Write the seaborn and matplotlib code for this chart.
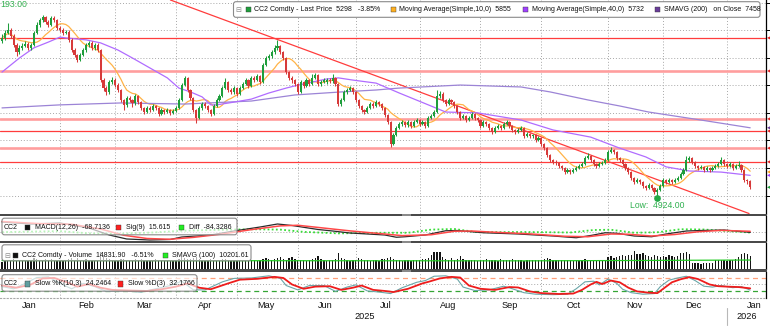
import numpy as np
import pandas as pd
import matplotlib
matplotlib.use("Agg")
import matplotlib.pyplot as plt
import seaborn as sns
from matplotlib.patches import FancyBboxPatch, Rectangle
from matplotlib.transforms import Affine2D, blended_transform_factory

# ---------------------------------------------------------------- data
holidays = ["2025-01-09", "2025-01-20", "2025-02-17", "2025-04-18", "2025-05-26",
            "2025-06-19", "2025-07-04", "2025-09-01", "2025-11-27", "2025-12-25",
            "2026-01-01"]

opens = [10600,10720,10900,11010,10790,10460,10210,10360,10430,10500,
         10360,10460,10900,11190,11370,11480,11300,11190,11440,11370,
         11080,11010,10900,10940,10650,10280,10100,9920,10100,10280,
         10460,10540,10360,10460,10280,9190,8900,8760,9120,9190,
         9010,8830,8470,8290,8540,8470,8360,8610,8390,8180,
         8030,8180,8100,8250,8180,7960,8100,8030,8100,8000,
         8070,8180,8470,9010,9270,8830,8540,8100,7810,8180,
         8320,8250,8100,7960,8250,8470,8610,8900,9120,8830,
         8760,8900,8690,8900,9050,9190,8980,9270,9190,9340,
         9120,9740,9990,10060,10210,10360,10430,10210,9990,9480,
         9270,9190,9050,8760,9120,8980,9190,9050,9270,9380,
         9050,9120,9120,9190,9150,9270,9050,8320,8470,8760,
         8830,8900,8760,8470,8250,8100,8030,8180,8320,8250,
         8390,8320,8180,7920,7670,6870,7200,7450,7600,7670,
         7560,7670,7520,7670,7740,7600,7670,7520,7810,7890,
         8030,8610,8690,8470,8320,8470,8390,8250,8030,7810,
         7890,7740,7810,7960,7810,7740,7520,7670,7600,7450,
         7310,7450,7520,7450,7600,7670,7520,7380,7310,7380,
         7450,7160,7230,7160,7190,7020,7090,6870,6730,6470,
         6290,6220,6180,6070,6000,5850,5930,5850,5930,6000,
         6070,6140,6360,6430,6290,6140,6070,6140,6180,6290,
         6580,6650,6580,6360,6290,6140,6000,5850,5640,5490,
         5560,5490,5350,5270,5380,5270,5130,5200,5350,5560,
         5490,5560,5490,5560,5640,5780,5930,6290,6360,6220,
         6070,6000,6040,5930,6000,5930,6000,6070,6140,6290,
         6140,6070,6140,6000,6070,6110,5930,5550,5510]

highs = [10850,11000,11260,11080,10850,10520,10450,10520,10600,10560,
         10540,10980,11300,11450,11560,11530,11380,11520,11500,11420,
         11150,11080,11020,10990,10700,10350,10150,10180,10350,10540,
         10620,10600,10530,10520,10320,9250,8980,9200,9300,9250,
         9080,8880,8520,8620,8600,8520,8680,8650,8440,8230,
         8250,8240,8330,8300,8220,8170,8150,8170,8150,8140,
         8250,8540,9100,9350,9300,8880,8580,8150,8250,8400,
         8390,8290,8140,8310,8540,8700,8980,9270,9160,8890,
         8970,8950,8970,9130,9270,9230,9340,9330,9420,9380,
         9820,10080,10140,10300,10450,10650,10480,10260,10030,9530,
         9330,9240,9100,9190,9170,9260,9230,9400,9460,9420,
         9190,9260,9260,9260,9400,9310,9080,8540,8830,8900,
         8970,8940,8800,8510,8290,8150,8250,8400,8380,8460,
         8440,8360,8220,7960,7700,7270,7520,7680,7750,7720,
         7740,7710,7740,7820,7780,7740,7710,7880,7960,8100,
         8830,8780,8740,8520,8540,8520,8430,8290,8070,7960,
         7930,7880,8030,8000,7860,7780,7740,7720,7640,7490,
         7520,7590,7570,7670,7740,7710,7560,7420,7450,7520,
         7490,7300,7280,7250,7230,7160,7130,6910,6770,6510,
         6340,6280,6220,6120,6040,6000,5970,6000,6070,6140,
         6210,6430,6540,6470,6330,6180,6210,6250,6360,6650,
         6750,6700,6620,6400,6330,6180,6040,5890,5680,5630,
         5600,5530,5390,5450,5420,5310,5270,5420,5630,5600,
         5630,5600,5630,5710,5850,6000,6420,6450,6400,6260,
         6110,6110,6080,6070,6040,6070,6140,6210,6400,6330,
         6180,6210,6180,6140,6250,6150,5970,5600,5560]

lows = [10520,10650,10850,10700,10380,10080,10150,10290,10380,10290,
        10300,10420,10850,11120,11300,11220,11100,11150,11290,11000,
        10930,10820,10850,10580,10200,10020,9850,9880,10050,10220,
        10400,10300,10300,10220,9120,8800,8650,8700,9060,8940,
        8750,8400,8100,8220,8380,8200,8300,8330,8100,7960,
        7980,8030,8050,8110,7880,7920,7970,7980,7940,7950,
        8020,8130,8420,8960,8760,8460,8020,7630,7760,8120,
        8180,8030,7870,7920,8200,8420,8560,8850,8760,8680,
        8700,8620,8640,8850,9000,8900,8930,9120,9140,9050,
        9080,9690,9920,10000,10150,10300,10140,9920,9400,9200,
        9100,8980,8680,8720,8900,8940,8980,9000,9220,8980,
        8990,9070,9060,9090,9100,8980,8250,8260,8420,8700,
        8780,8700,8400,8180,8030,7960,7990,8130,8180,8200,
        8250,8110,7850,7600,6760,6820,7150,7400,7540,7490,
        7500,7460,7470,7620,7530,7550,7450,7480,7760,7840,
        7990,8550,8400,8250,8270,8320,8180,7960,7740,7760,
        7670,7690,7760,7740,7670,7450,7470,7530,7380,7240,
        7260,7400,7380,7400,7550,7460,7310,7240,7260,7330,
        7090,7110,7090,7100,6950,6970,6800,6660,6400,6220,
        6150,6110,6000,5930,5780,5800,5780,5800,5880,5950,
        6020,6100,6310,6220,6070,6000,6020,6090,6130,6250,
        6530,6510,6290,6220,6070,5930,5780,5570,5420,5440,
        5420,5280,5200,5220,5200,5060,4924,5150,5300,5420,
        5440,5420,5440,5510,5590,5730,5890,6230,6150,6000,
        5930,5950,5860,5880,5860,5880,5950,6020,6090,6070,
        6000,6020,5930,5950,6020,5860,5480,5430,5230]

closes = [10720,10900,11010,10790,10460,10210,10360,10430,10500,10360,
          10460,10900,11190,11370,11480,11300,11190,11440,11370,11080,
          11010,10900,10940,10650,10280,10100,9920,10100,10280,10460,
          10540,10360,10460,10280,9190,8900,8760,9120,9190,9010,
          8830,8470,8290,8540,8470,8360,8610,8390,8180,8030,
          8180,8100,8250,8180,7960,8100,8030,8100,8000,8070,
          8180,8470,9010,9270,8830,8540,8100,7810,8180,8320,
          8250,8100,7960,8250,8470,8610,8900,9120,8830,8760,
          8900,8690,8900,9050,9190,8980,9270,9190,9340,9120,
          9740,9990,10060,10210,10360,10430,10210,9990,9480,9270,
          9190,9050,8760,9120,8980,9190,9050,9270,9380,9050,
          9120,9190,9190,9150,9270,9050,8320,8470,8760,8830,
          8900,8760,8470,8250,8100,8030,8180,8320,8250,8390,
          8320,8180,7920,7670,6870,7200,7450,7600,7670,7560,
          7670,7520,7670,7740,7600,7670,7520,7810,7890,8030,
          8610,8690,8470,8320,8470,8390,8250,8030,7810,7890,
          7740,7810,7960,7810,7740,7520,7670,7600,7450,7310,
          7450,7520,7450,7600,7670,7520,7380,7310,7380,7450,
          7160,7230,7160,7190,7020,7090,6870,6730,6470,6290,
          6220,6180,6070,6000,5850,5930,5850,5930,6000,6070,
          6140,6360,6430,6290,6140,6070,6140,6180,6290,6580,
          6650,6580,6360,6290,6140,6000,5850,5640,5490,5560,
          5490,5350,5270,5380,5270,5130,5200,5350,5560,5490,
          5560,5490,5560,5640,5780,5930,6290,6360,6220,6070,
          6000,6040,5930,6000,5930,6000,6070,6140,6290,6140,
          6070,6140,6000,6070,6110,5930,5550,5510,5298]

volumes = [8500,9200,10400,9800,11200,10600,9400,8800,9900,10300,9100,12400,11800,10200,9600,10800,9300,11000,9700,10500,9900,
           10100,9400,11300,12100,10700,11900,10300,9600,10800,9200,10100,9800,10600,19500,14200,12800,11000,10400,
           9900,10700,11600,10900,9800,10200,9500,10800,10100,11200,9700,9400,10300,9800,11000,9600,9200,10100,9500,9800,9300,
           9700,11800,13500,12200,11400,10800,12600,13100,11500,10200,9600,10400,10900,10300,9900,10600,11200,10800,9800,9400,10100,
           9600,10200,9100,9800,10400,9900,10600,9300,9900,10800,12300,11600,10700,11200,12100,13000,11400,10600,12800,13500,11200,
           10300,9700,10600,9400,10200,11000,12400,14600,10800,9900,9600,10300,9800,11500,18000,12800,10900,10200,9500,9900,
           10400,12300,11100,10300,9800,9600,10700,10100,9500,10900,11400,12000,13200,11800,10600,9900,9400,10200,9700,9300,10100,9800,
           10200,10800,11300,12600,15200,18800,19300,19000,13500,11800,10400,12900,10600,11700,14100,10800,9900,10400,9700,10200,9500,
           10600,9800,11100,10200,9900,10500,9600,10800,10300,9700,10100,11200,10400,9800,10600,9500,10200,9900,10700,10300,9800,
           10500,11000,12100,11400,10600,10200,9800,10400,9900,10700,10100,9600,10300,10000,9700,11200,10600,9900,10400,9800,10200,9600,10100,
           13600,14200,12800,13900,14800,15300,14500,15800,16200,19900,17200,16800,17600,15900,14400,13800,15200,14100,13500,
           14600,13900,15400,14800,13700,15100,18200,17600,19000,16400,6800,6500,7100,6200,6900,6600,7300,6400,10300,9800,10600,10100,
           9600,10400,9900,11800,13900,16500,17800,17100,14832]

ma40_day = [0,6,11,16,20,22,29,34,40,45,51,57,61,65,69,72,74,80,86,92,
            98,101,107,112,116,121,129,137,147,153,164,179,190,203,213,222,229,237,248,258]
ma40_val = [9480,9990,10360,10570,10750,10720,10650,10540,10280,9990,9630,9270,8900,8760,8580,8290,8290,8390,8500,8720,
            8900,8980,9120,9230,9270,9190,9080,8720,8290,8030,8000,7740,7380,7120,6720,6400,6040,5890,5850,5732]
sma200_day = [0,20,41,63,86,101,117,129,137,158,179,189,202,213,223,241,258]
sma200_val = [8180,8290,8360,8320,8430,8650,8760,8830,8900,9010,8940,8760,8470,8250,8030,7740,7458]

vol_sma_day = [0,60,120,180,220,258]
vol_sma_val = [9600,9500,9400,9300,9700,10202]

macd_day = [0,10,20,30,37,43,51,58,62,72,80,89,95,100,109,114,120,126,132,136,
            139,146,153,157,166,178,190,198,203,208,212,218,224,229,236,241,249,258]
macd_val = [760,600,680,280,-280,-600,-680,-640,-440,-280,40,360,600,480,160,40,-120,-200,-280,-460,
            -420,-280,60,80,-100,-200,-360,-500,-320,-100,-140,-360,-420,-200,40,80,120,-69]
signal_day = [0,12,24,34,42,50,58,66,76,86,96,102,112,120,130,138,148,156,162,170,
              182,194,202,210,216,224,232,240,248,258]
signal_val = [800,640,580,200,-300,-560,-620,-470,-200,150,450,500,250,50,-160,-330,-260,20,40,-60,
              -190,-380,-420,-200,-220,-360,-240,-20,90,16]
diff_day = [0,20,30,40,52,62,72,86,96,104,116,130,140,148,156,164,180,196,204,210,218,226,234,242,250,258]
diff_val = [-50,30,-150,-180,-80,60,120,180,150,-30,-150,-100,-100,150,200,-60,-40,-80,120,140,-100,-60,180,160,40,-84]

slowk_day = [0,4,8,12,16,20,24,28,32,36,42,48,53,58,62,66,70,76,80,86,92,96,98,102,106,111,115,119,122,126,
             130,134,138,143,146,149,153,157,159,163,168,173,176,180,184,190,195,198,201,204,206,209,212,214,217,
             221,225,227,230,233,236,239,242,245,248,252,255,258]
slowk_val = [40,30,55,82,85,55,30,55,40,18,20,15,30,45,65,25,25,62,78,80,90,78,45,25,45,45,18,38,48,20,
             15,8,35,60,68,88,90,75,38,22,25,42,30,12,5,3,5,30,62,65,48,75,55,28,12,
             5,8,40,70,80,88,68,42,38,45,35,40,24]
slowd_day = [0,5,10,14,18,22,26,30,34,38,44,50,55,60,64,68,72,78,82,88,94,97,100,104,108,113,117,121,124,128,
             132,135,140,145,147,151,155,158,161,165,170,175,178,182,186,192,197,200,203,205,207,210,213,216,219,
             223,226,228,231,234,237,240,244,247,250,254,258]
slowd_val = [45,35,50,78,80,62,40,52,35,25,22,20,28,40,55,35,28,55,72,76,85,80,50,30,40,42,25,35,45,25,
             20,15,30,55,62,78,85,82,45,30,25,38,36,18,10,6,8,25,50,62,52,68,60,35,18,
             12,10,30,60,74,84,75,50,42,40,38,32]

red_levels = [10720, 7340, 6220]
pink_levels = [9520, 7780, 6720]
trend_day = [58, 257]
trend_price = [12100, 4370]
price_grid = [5000, 6000, 7000, 8000, 9000, 10000, 11000, 12000]
stoch_bands = [80, 20]

last_price, last_change_pct = 5298, -3.85
ma10_last, ma40_last, sma200_last = 5855, 5732, 7458
macd_last, signal_last, diff_last = -68.7136, 15.615, -84.3286
volume_last, volume_change_pct, volume_sma_last = 14831.90, -6.51, 10201.61
slowk_last, slowd_last = 24.2464, 32.1766
high_label = "193.00"
month_names = ["Jan", "Feb", "Mar", "Apr", "May", "Jun", "Jul", "Aug", "Sep", "Oct", "Nov", "Dec", "Jan"]

# ---------------------------------------------------------------- style
sns.set_theme(style="white")
plt.rcParams["font.family"] = ["Liberation Sans", "DejaVu Sans"]

UP, DOWN = "#1f9e3c", "#d73a3a"
GRID = "#a8a8a8"
DOT = (0, (1, 2))

W, H = 770, 331
fig = plt.figure(figsize=(W / 100, H / 100), dpi=100)
fig.patch.set_facecolor("white")
pix = Affine2D().scale(1.0 / W, -1.0 / H).translate(0, 1) + fig.transFigure

RIGHT = 766


def rect(top, bottom, left=0, right=RIGHT):
    return [left / W, 1 - bottom / H, (right - left) / W, (bottom - top) / H]


days = pd.bdate_range("2025-01-02", "2026-01-14")
days = days[~days.isin(pd.to_datetime(holidays))]
idx = np.arange(len(days))
o, h, l, c = map(np.asarray, (opens, highs, lows, closes))
XMIN, XMAX = -0.69, 263.45
month_starts = [0] + [i for i in range(1, len(days)) if days[i].month != days[i - 1].month]

SEP = [(213.5, 216.2), (240.7, 243.4), (269.3, 272.3)]
ax_main = fig.add_axes(rect(0, SEP[0][0]))
ax_macd = fig.add_axes(rect(SEP[0][1], SEP[1][0]))
ax_vol = fig.add_axes(rect(SEP[1][1], SEP[2][0]))
ax_sto = fig.add_axes(rect(SEP[2][1], 297.5))
axes = [ax_main, ax_macd, ax_vol, ax_sto]

for ax in axes:
    ax.set_facecolor("white")
    for s in ["top", "left", "bottom"]:
        ax.spines[s].set_visible(False)
    ax.spines["right"].set_color("black")
    ax.spines["right"].set_linewidth(0.9)
    for m in month_starts[1:]:
        ax.axvline(m, color=GRID, lw=0.7, ls=DOT, zorder=0)
    ax.set_xticks([])

# ---------------------------------------------------------------- main panel
ax = ax_main
for p in price_grid:
    ax.axhline(p, color=GRID, lw=0.7, ls=DOT, zorder=0)
for p in pink_levels:
    ax.axhline(p, color="#ff9e9e", lw=1.9, zorder=1)
for p in red_levels:
    ax.axhline(p, color="#ff3c3c", lw=0.9, zorder=1)
ax.axline((trend_day[0], trend_price[0]), (trend_day[1], trend_price[1]), color="#ff3c3c", lw=0.9, zorder=1)

ma10 = pd.Series(c).rolling(10, min_periods=1).mean()
sns.lineplot(x=idx, y=ma10.values, ax=ax, color="#ffb347", linewidth=0.9, zorder=2)
sns.lineplot(x=sma200_day, y=sma200_val, ax=ax, color="#9c84d6", linewidth=0.9, zorder=2)
sns.lineplot(x=ma40_day, y=ma40_val, ax=ax, color="#b06cff", linewidth=0.9, zorder=2)

col = np.where(c >= o, UP, DOWN)
ax.vlines(idx, l, h, colors=col, linewidth=0.75, zorder=3)
ax.bar(idx, np.maximum(np.abs(c - o), 18), bottom=np.minimum(o, c), width=0.74,
       color=col, linewidth=0, zorder=4)

ilow = int(np.argmin(l))
ax.plot([ilow], [l[ilow]], "o", ms=3.8, color="#22a845", zorder=5)
ax.annotate(f"Low:  {l[ilow]:.2f}", xy=(ilow, l[ilow]), xytext=(0, -7.5), textcoords="offset pixels",
            ha="center", va="center", fontsize=6.2, color="#2fb04f")

ax.set_xlim(XMIN, XMAX)
ax.set_ylim(12097 - 36.3 * SEP[0][0], 12097)
ax.yaxis.tick_right()
ax.set_yticks(price_grid)
ax.tick_params(axis="y", length=3, width=0.7, labelright=False, labelleft=False, color="black")
ax.set_xlabel("")
ax.set_ylabel("")

mk_prices = red_levels + pink_levels + [sma200_last, ma40_last, ma10_last, last_price]
mk_colors = ["#e02020"] * 6 + ["#6a3d9a", "#a040ff", "#ffa020", "#1f9e3c"]
ax.scatter([1.004] * len(mk_prices), mk_prices, marker="<", s=9, c=mk_colors,
           transform=ax.get_yaxis_transform(), clip_on=False, zorder=6, linewidths=0)

# ---------------------------------------------------------------- MACD
ax = ax_macd
ax.axhline(0, color=GRID, lw=0.7, ls=DOT, zorder=0)
ax.plot(diff_day, diff_val, color="#39dd39", lw=1.3, ls=(0, (1, 1.3)), zorder=1)
sns.lineplot(x=macd_day, y=macd_val, ax=ax, color="#2b2b2b", linewidth=0.9, zorder=2)
sns.lineplot(x=signal_day, y=signal_val, ax=ax, color="#ff4848", linewidth=1.1, zorder=3)
ax.set_xlim(XMIN, XMAX)
ax.set_ylim(-(SEP[1][0] - 231.5) * 80, (231.5 - SEP[0][1]) * 80)
ax.set_yticks([])
ax.set_xlabel("")
ax.set_ylabel("")

# ---------------------------------------------------------------- volume
ax = ax_vol
ax.bar(idx, volumes, width=0.45, color="#151515", linewidth=0, zorder=2)
sns.lineplot(x=vol_sma_day, y=vol_sma_val, ax=ax, color="#25cc25", linewidth=0.9, zorder=3)
ax.set_xlim(XMIN, XMAX)
ax.set_ylim(0, (SEP[2][0] - SEP[1][1]) * 1100)
ax.set_yticks([])
ax.set_xlabel("")
ax.set_ylabel("")

# ---------------------------------------------------------------- stochastic
ax = ax_sto
ax.axhline(50, color=GRID, lw=0.7, ls=DOT, zorder=0)
ax.axhline(stoch_bands[0], color="#ffa07a", lw=0.9, ls=(0, (4, 3)), zorder=1)
ax.axhline(stoch_bands[1], color="#35a535", lw=0.9, ls=(0, (4, 3)), zorder=1)
sns.lineplot(x=slowk_day, y=slowk_val, ax=ax, color="#6aa6a8", linewidth=0.8, zorder=2)
sns.lineplot(x=slowd_day, y=slowd_val, ax=ax, color="#ee1c1c", linewidth=1.3, zorder=3)
ax.set_xlim(XMIN, XMAX)
ax.set_ylim(-10.2, (295.3 - SEP[2][1]) / 0.2167)
ax.set_yticks([])
ax.set_xlabel("")
ax.set_ylabel("")
ax.spines["bottom"].set_visible(True)
ax.spines["bottom"].set_color(GRID)
ax.spines["bottom"].set_linestyle(DOT)
ax.spines["bottom"].set_linewidth(0.8)

# ---------------------------------------------------------------- separators
for top, bot in SEP:
    fig.add_artist(Rectangle((0, top), RIGHT + 1, bot - top, transform=pix, fc="#4a4a4a", ec="none", zorder=1))
    fig.add_artist(Rectangle((402, top + 0.6), 9, bot - top - 1.2, transform=pix, fc="#8a8a8a", ec="none", zorder=1.1))

# ---------------------------------------------------------------- x labels
xt = blended_transform_factory(ax_sto.transData, pix)
bounds = month_starts + [month_starts[-1] + 20]
for k, name in enumerate(month_names):
    xc = (bounds[k] + bounds[k + 1]) / 2 - 0.5
    ax_sto.text(xc, 305, name, transform=xt, ha="center", va="center", fontsize=6.6, color="#111111", clip_on=False)
ax_sto.text((0 + month_starts[-1]) / 2, 316.5, "2025", transform=xt, ha="center", va="center",
            fontsize=6.6, color="#111111", clip_on=False)
ax_sto.text((month_starts[-1] + XMAX) / 2, 316.5, "2026", transform=xt, ha="center", va="center",
            fontsize=6.6, color="#111111", clip_on=False)
ax_sto.plot([month_starts[-1], month_starts[-1]], [308, 325], transform=xt, color="#b8b8b8", lw=0.8, clip_on=False)

# ---------------------------------------------------------------- legends
TXT = "#111111"


def box(x0, y0, x1, y1, alpha=1.0):
    fig.add_artist(FancyBboxPatch((x0, y0), x1 - x0, y1 - y0, boxstyle="round,pad=0,rounding_size=2.5",
                                  transform=pix, fc=(1, 1, 1, alpha), ec="#8a8a8a", lw=0.8, zorder=2))


def sq(x, y, color):
    fig.add_artist(Rectangle((x, y - 2.7), 5.4, 5.4, transform=pix, fc=color, ec="#3a3a3a", lw=0.3, zorder=3))


def tx(x, y, s, color=TXT, family=None):
    kw = {} if family is None else {"family": family}
    fig.text(x, y, s, transform=pix, fontsize=5.05, va="center", ha="left", color=color, zorder=4, **kw)


# main
box(233.5, 1.7, 760, 17.3)
tx(235, 9.6, "\u229f", color="#8a8a8a", family="DejaVu Sans")
sq(245.5, 9.5, "#1f9e3c")
tx(253.5, 9.5, f"CC2 Comdty - Last Price  {last_price}   {last_change_pct:.2f}%")
sq(390.5, 9.5, "#ffb020")
tx(399, 9.5, f"Moving Average(Simple,10,0)  {ma10_last}")
sq(522.5, 9.5, "#a040ff")
tx(531.5, 9.5, f"Moving Average(Simple,40,0)  {ma40_last}")
sq(655, 9.5, "#6a3d9a")
tx(664.5, 9.5, f"SMAVG (200)   on Close  {sma200_last}")

# MACD
box(2, 218.2, 237, 234.8, alpha=0.65)
tx(3.5, 227.3, "CC2")
sq(25, 227.3, "#111111")
tx(35, 227.3, f"MACD(12,26)  {macd_last}")
sq(116, 227.3, "#ff2020")
tx(126, 227.3, f"Sig(9)  {signal_last}")
sq(179, 227.3, "#22ee22")
tx(189, 227.3, f"Diff  {diff_last}")

# Volume
box(2, 244.8, 251, 260.8, alpha=0.65)
tx(4, 255.5, "\u229f", color="#8a8a8a", family="DejaVu Sans")
sq(13, 255.3, "#111111")
tx(22.5, 255.3, f"CC2 Comdty - Volume  {volume_last:.2f}   {volume_change_pct:.2f}%")
sq(163, 255.3, "#22ee22")
tx(172, 255.3, f"SMAVG (100)  {volume_sma_last:.2f}")

# Stochastic
box(2, 274.7, 197, 291.2, alpha=0.65)
tx(3.5, 283.8, "CC2")
sq(25, 283.8, "#5f9ea0")
tx(35, 283.8, f"Slow %K(10,3)  {slowk_last}")
sq(118, 283.8, "#ff2020")
tx(128, 283.8, f"Slow %D(3)  {slowd_last}")

# top-left high label (partly cut)
fig.text(0.5, 6.8, high_label, transform=pix, fontsize=6.3, va="baseline", ha="left", color="#35b050")

fig.savefig("out.png", dpi=100, facecolor="white")
